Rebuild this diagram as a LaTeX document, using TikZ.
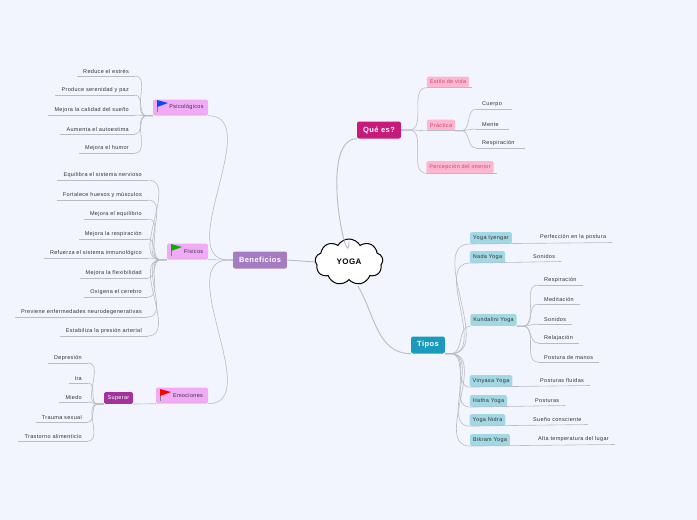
\documentclass[tikz,border=0pt]{standalone}
\usepackage{fontspec}
\setmainfont{Liberation Sans}[LetterSpace=6]
\usetikzlibrary{shapes.symbols}
\definecolor{bg}{HTML}{F2F5FE}
\definecolor{ln}{HTML}{B8BCC4}
\definecolor{benef}{HTML}{A57CC2}
\definecolor{quees}{HTML}{C81A78}
\definecolor{tipos}{HTML}{1A9BBD}
\definecolor{cat}{HTML}{F0AAF6}
\definecolor{sup}{HTML}{A3329C}
\definecolor{pinkb}{HTML}{FDB8CF}
\definecolor{pinkt}{HTML}{D0407A}
\definecolor{blueb}{HTML}{A2D8E4}
\definecolor{txt}{HTML}{333333}
\begin{document}
\begin{tikzpicture}[x=1pt,y=-1pt,
 main/.style={rounded corners=2pt,text=white,font=\fontsize{7.5}{8}\selectfont\bfseries,inner xsep=6pt,minimum height=17pt},
 catn/.style={rounded corners=1.5pt,fill=cat,text=txt,font=\fontsize{5.5}{6}\selectfont,minimum height=16pt,inner xsep=2pt},
 sub/.style={rounded corners=1.5pt,font=\fontsize{5.5}{6}\selectfont,minimum height=11pt,inner xsep=3pt},
 leaf/.style={text=txt,font=\fontsize{5.5}{6}\selectfont,inner xsep=6pt,inner ysep=2.5pt},
 con/.style={draw=ln,line width=0.6pt},
 ul/.style={draw=ln,line width=0.6pt}]
\useasboundingbox[fill=bg] (0,0) rectangle (697,520);
% central
\node[cloud,cloud puffs=9,cloud puff arc=120,aspect=1.4,draw=black,line width=1pt,fill=white,minimum width=68pt,minimum height=46pt,font=\fontsize{8}{9}\selectfont\bfseries] (yoga) at (349,262) {YOGA};
\node[main,fill=benef] (ben) at (260,260) {Beneficios};
\node[main,fill=quees] (que) at (379,130) {Qué es?};
\node[main,fill=tipos] (tip) at (428,345) {Tipos};
\draw[con,line width=0.9pt] (yoga.west) -- (ben.east);
\draw[con,line width=0.9pt] (349,241) to[out=-90,in=180] (que.south west);
\draw[con,line width=0.9pt] (358,286) to[out=-60,in=180] (tip.south west);
% categories
\node[catn,minimum width=55pt] (psi) at (180.5,107.5) {\hspace{12pt}Psicológicos};
\node[catn,minimum width=41pt] (fis) at (187.5,251.5) {\hspace{12pt}Físicos};
\node[catn,minimum width=52pt] (emo) at (182,395.5) {\hspace{12pt}Emociones};
\node[sub,fill=sup,text=white,minimum width=29pt] (supr) at (118.5,398) {Superar};
\foreach \c in {psi,fis,emo}{\draw[con] (ben.west) -- ++(-4,0) to[out=180,in=0] (\c.south east);}
\draw[con] (emo.south west) -- (supr.south east);
% flags
\foreach \x/\y/\col in {157/100/blue!70!cyan,171/244/green!70!black,160/389/red}{
 \draw[gray,line width=0.6pt] (\x,\y) -- (\x,\y+12);
 \fill[\col] (\x,\y) -- (\x+11,\y+3) -- (\x,\y+7) -- cycle;}
% Psicologicos leaves
\foreach \n/\y/\t in {a/72/Reduce el estrés,b/91/Produce serenidad y paz,c/111/Mejora la calidad del sueño,d/130/Aumenta el autoestima,e/149/Mejora el humor}{
 \node[leaf,anchor=south east] (p\n) at (135,\y+4) {\t};
 \draw[ul] (p\n.south west) -- (p\n.south east);
 \draw[con] (psi.south west) -- ++(-6,0) to[out=180,in=0] (p\n.south east);}
% Fisicos leaves
\foreach \n/\y/\t in {a/176/Equilibra el sistema nervioso,b/196/Fortalece huesos y músculos,c/215/Mejora el equilibrio,d/235/Mejora la respiración,e/254/Refuerza el sistema inmunológico,f/274/Mejora la flexibilidad,g/293/Oxigena el cerebro,h/313/Previene enfermedades neurodegenerativas,i/332/Estabiliza la presión arterial}{
 \node[leaf,anchor=south east] (f\n) at (148,\y+4) {\t};
 \draw[ul] (f\n.south west) -- (f\n.south east);
 \draw[con] (fis.south west) -- ++(-6,0) to[out=180,in=0] (f\n.south east);}
% Superar leaves
\foreach \n/\y/\t in {a/359/Depresión,b/379/Ira,c/398/Miedo,d/418/Trauma sexual,e/437/Trastorno alimenticio}{
 \node[leaf,anchor=south east] (s\n) at (88,\y+4) {\t};
 \draw[ul] (s\n.south west) -- (s\n.south east);
 \draw[con] (supr.south west) -- ++(-6,0) to[out=180,in=0] (s\n.south east);}
% Que es
\node[sub,fill=pinkb,text=pinkt] (q1) at (448,82) {Estilo de vida};
\node[sub,fill=pinkb,text=pinkt] (q2) at (441,125) {Práctica};
\node[sub,fill=pinkb,text=pinkt] (q3) at (460,167) {Percepción del interior};
\foreach \c in {q1,q2,q3}{\draw[con] (que.east) -- ++(8,0) to[out=0,in=180] (\c.south west); \draw[ul] (\c.south west) -- ([xshift=3pt]\c.south east);}
\foreach \n/\y/\t in {a/105/Cuerpo,b/125/Mente,c/144/Respiración}{
 \node[leaf,anchor=south west] (r\n) at (476,\y+4) {\t};
 \draw[ul] (r\n.south west) -- ([xshift=4pt]r\n.south east);
 \draw[con] (q2.south east) -- ++(6,0) to[out=0,in=180] (r\n.south west);}
% Tipos
\foreach \n/\x/\y/\t in {a/491/238/Yoga Iyengar,b/487.5/257/Nada Yoga,c/493.5/320/Kundalini Yoga,d/491/381/Vinyasa Yoga,e/488.5/401/Hatha Yoga,f/487.5/420/Yoga Nidra,g/490/440/Bikram Yoga}{
 \node[sub,fill=blueb,text=txt] (t\n) at (\x,\y) {\t};
 \draw[con] (tip.south east) -- ++(6,0) to[out=0,in=180] (t\n.south west);}
\foreach \p/\n/\x/\y/\t in {ta/a/534/238/Perfección en la postura,tb/b/527/257/Sonidos,td/d/534/381/Posturas fluidas,te/e/529/401/Posturas,tf/f/527/420/Sueño consciente,tg/g/532/440/Alta temperatura del lugar}{
 \node[leaf,anchor=south west] (l\n) at (\x,\y+4.5) {\t};
 \draw[con] (\p.south west) -- (l\n.south east);}
\foreach \n/\y/\t in {a/281/Respiración,b/300/Meditación,c/320/Sonidos,d/339/Relajación,e/358/Postura de manos}{
 \node[leaf,anchor=south west] (k\n) at (538,\y+4) {\t};
 \draw[ul] (k\n.south west) -- (k\n.south east);
 \draw[con] (tc.south east) -- ++(6,0) to[out=0,in=180] (k\n.south west);}
\end{tikzpicture}
\end{document}
